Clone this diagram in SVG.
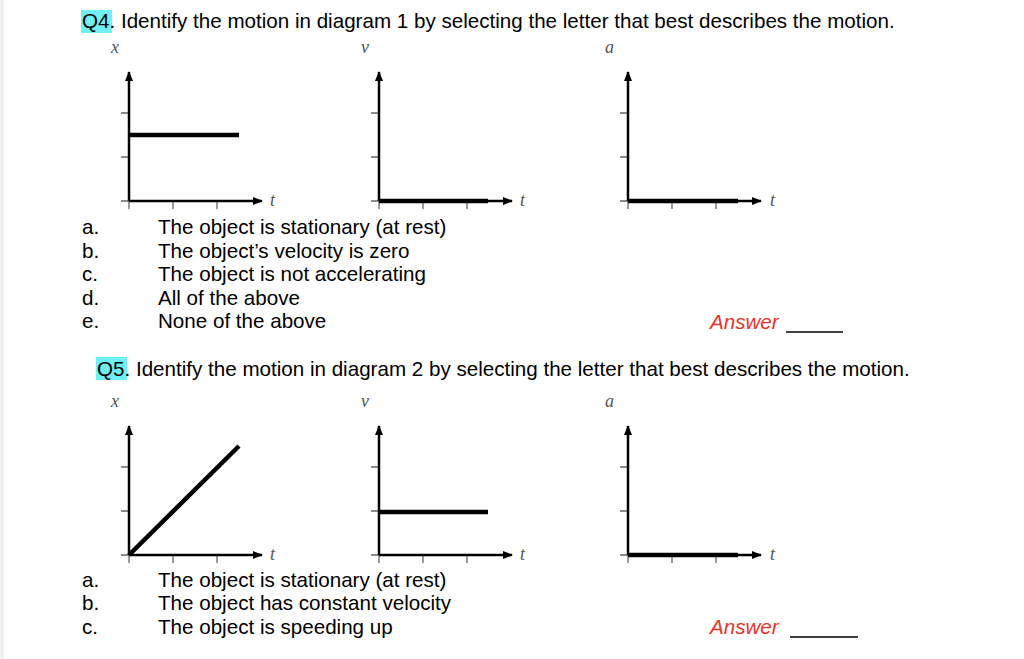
<svg xmlns="http://www.w3.org/2000/svg" width="1024" height="659" viewBox="0 0 1024 659">
<defs>
<style>
.t{font-family:"Liberation Sans",Arial,sans-serif;font-size:20.6px;fill:#000}
.lb{font-family:"Liberation Serif",serif;font-style:italic;font-size:18px;fill:#555}
.ax{stroke:#000;stroke-width:2.5;fill:none}
.tk{stroke:#666;stroke-width:1.3}
.th{stroke:#000;stroke-width:4.5;fill:none}
.ans{font-family:"Liberation Sans",Arial,sans-serif;font-size:20.6px;font-style:italic;fill:#e8352b}
</style>
<marker id="ar" viewBox="0 0 10 10" refX="9" refY="5" markerWidth="4" markerHeight="4" orient="auto"><path d="M0,1 L10,5 L0,9 Z" fill="#000"/></marker>
<g id="axes">
<path class="tk" d="M-8,41 H0 M-8,85 H0 M-8,129 H0 M44,129 V137 M88,129 V137 M0,129 V137"/>
<path class="ax" d="M0,129 V0" marker-end="url(#ar)"/>
<path class="ax" d="M0,129 H133" marker-end="url(#ar)"/>
</g>
</defs>
<rect width="1024" height="659" fill="#fff"/>
<rect width="4" height="659" fill="#f0f0f0"/>
<rect x="81" y="10" width="31" height="23" fill="#6ef0f5"/>
<text class="t" x="82" y="28">Q4. Identify the motion in diagram 1 by selecting the letter that best describes the motion.</text>
<g id="q4x"><use href="#axes" x="129" y="72"/><line class="th" x1="129" y1="135" x2="239" y2="135"/><text class="lb" x="111" y="53">x</text><text class="lb" x="270" y="206">t</text></g>
<g id="q4v"><use href="#axes" x="379" y="72"/><line class="th" x1="379" y1="201" x2="488" y2="201"/><text class="lb" x="361" y="53">v</text><text class="lb" x="520" y="206">t</text></g>
<g id="q4a"><use href="#axes" x="628" y="72"/><line class="th" x1="628" y1="201" x2="738" y2="201"/><text class="lb" x="605" y="53">a</text><text class="lb" x="770" y="206">t</text></g>
<text class="t" x="82" y="234">a.</text><text class="t" x="158" y="234">The object is stationary (at rest)</text>
<text class="t" x="82" y="258">b.</text><text class="t" x="158" y="258">The object’s velocity is zero</text>
<text class="t" x="82" y="281">c.</text><text class="t" x="158" y="281">The object is not accelerating</text>
<text class="t" x="82" y="305">d.</text><text class="t" x="158" y="305">All of the above</text>
<text class="t" x="82" y="328">e.</text><text class="t" x="158" y="328">None of the above</text>
<text class="ans" x="710" y="329">Answer</text><line x1="786" y1="332" x2="843" y2="332" stroke="#000" stroke-width="1.5"/>
<rect x="96" y="357" width="31" height="23" fill="#6ef0f5"/>
<text class="t" x="97" y="376">Q5. Identify the motion in diagram 2 by selecting the letter that best describes the motion.</text>
<g id="q5x"><use href="#axes" x="129" y="426"/><line class="th" x1="129" y1="555" x2="239" y2="446"/><text class="lb" x="111" y="407">x</text><text class="lb" x="270" y="560">t</text></g>
<g id="q5v"><use href="#axes" x="379" y="426"/><line class="th" x1="379" y1="512" x2="488" y2="512"/><text class="lb" x="361" y="407">v</text><text class="lb" x="520" y="560">t</text></g>
<g id="q5a"><use href="#axes" x="628" y="426"/><line class="th" x1="628" y1="555" x2="738" y2="555"/><text class="lb" x="605" y="407">a</text><text class="lb" x="770" y="560">t</text></g>
<text class="t" x="82" y="587">a.</text><text class="t" x="158" y="587">The object is stationary (at rest)</text>
<text class="t" x="82" y="610">b.</text><text class="t" x="158" y="610">The object has constant velocity</text>
<text class="t" x="82" y="634">c.</text><text class="t" x="158" y="634">The object is speeding up</text>
<text class="ans" x="710" y="634">Answer</text><line x1="790" y1="637" x2="858" y2="637" stroke="#000" stroke-width="1.5"/>
</svg>
